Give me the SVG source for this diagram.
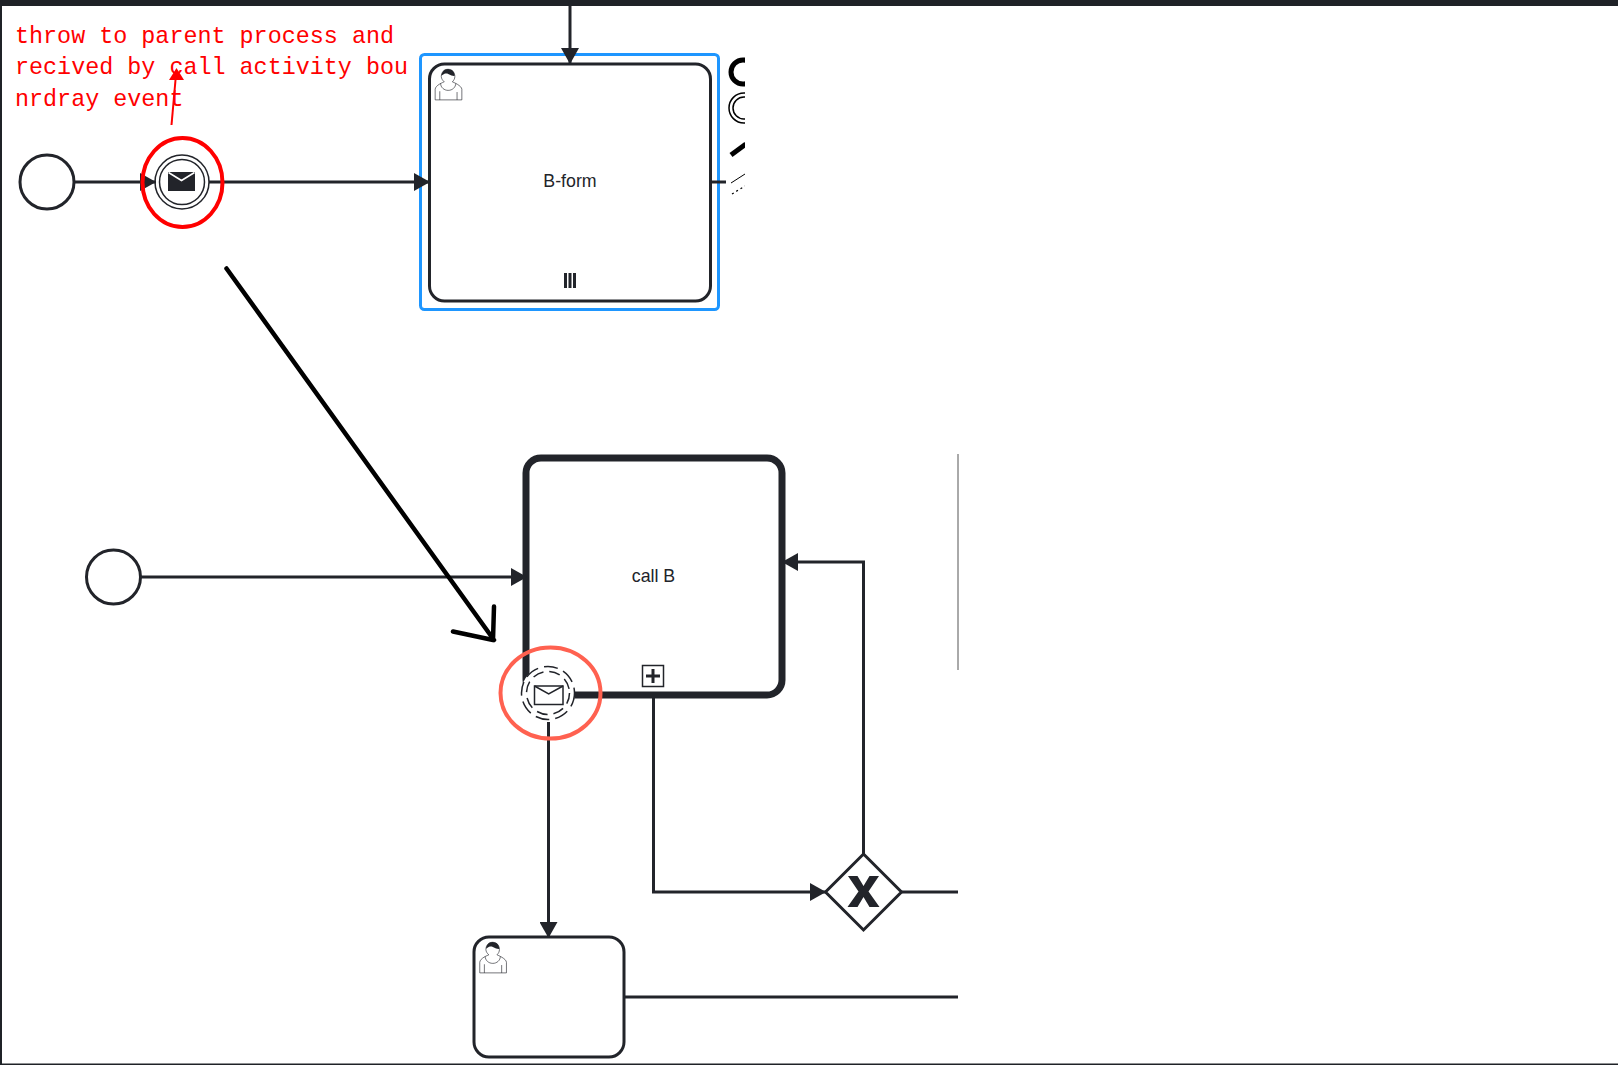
<svg xmlns="http://www.w3.org/2000/svg" width="1618" height="1065" viewBox="0 0 1618 1065">
<style>
.f{fill:#fff;stroke:#22242a;stroke-width:3}
.c{fill:none;stroke:#22242a;stroke-width:3}
.t{font-family:"Liberation Sans",Arial,sans-serif;font-size:17.800px;fill:#22242a;text-anchor:middle}
.n{font-family:"Liberation Mono","Courier New",monospace;font-size:23.400px;fill:#f00}
.ua{fill:none;stroke:#22242a;stroke-width:.5;opacity:.8}
.ub{fill:#22242a;stroke:none}
</style>
<defs>
<marker id="a" markerUnits="userSpaceOnUse" markerWidth="18" markerHeight="18" refX="16" refY="9" orient="auto"><path d="M0,0L16,9L0,18Z" fill="#22242a"/></marker>
<clipPath id="pad"><rect x="720" y="40" width="25" height="170"/></clipPath>
<g id="user">
<path class="ua" d="m15,12c.909-.845 1.594-2.049 1.594-3.385 0-2.554-1.805-4.622-4.357-4.622-2.552,0-4.288,2.068-4.288,4.622 0,1.348.974,2.562 1.896,3.405-.529.187-5.669,2.097-5.794,4.756v6.718h17v-6.718c0-2.298-5.528-4.595-6.051-4.776zm-8,6l0,5.5m11,0l0-5"/>
<path class="ua" d="m17.162,13.009c0,2.447-2.158,4.431-4.821,4.431-2.665,0-4.822-1.981-4.822-4.431"/>
<path class="ub" d="m8.100,8.200c0,0 2.251-2.358 4.274-1.177 2.024,1.181 4.221,1.537 4.124.965-.098-.57-.117-3.791-4.191-4.136-3.575.001-4.208,3.367-4.207,4.348z"/>
</g>
</defs>
<rect width="1618" height="1065" fill="#fff"/>
<g id="frame"><rect width="1618" height="6" fill="#1f2227"/><rect width="2" height="1065" fill="#1f2227"/><rect y="1063.500" width="1618" height="1.500" fill="#1f2227"/></g>
<g id="start1"><circle class="f" cx="47" cy="182" r="27"/></g>
<g id="throw-event">
<circle cx="182" cy="182" r="27" fill="#fff" stroke="#22242a" stroke-width="1.500"/>
<circle cx="182" cy="182" r="22.500" fill="#fff" stroke="#22242a" stroke-width="1.500"/>
<rect x="168" y="172" width="27" height="19" fill="#22242a"/>
<path d="M168.500,172.500L181.500,180.500L194.500,172.500" fill="none" stroke="#fff" stroke-width="1.500"/>
</g>
<g id="b-form-selection"><rect x="420.500" y="54.500" width="298" height="255" rx="4" fill="none" stroke="#1e96ff" stroke-width="3"/></g>
<g id="b-form">
<rect class="f" x="429.500" y="64" width="281" height="237" rx="15"/>
<use href="#user" transform="translate(428.800 63) scale(1.570)"/>
<text class="t" x="570" y="187">B-form</text>
<path fill="#22242a" d="M564,273h3v15h-3zM568.500,273h3v15h-3zM573,273h3v15h-3z"/>
</g>
<g id="context-pad" clip-path="url(#pad)">
<circle cx="743" cy="72" r="12" fill="none" stroke="#000" stroke-width="5"/>
<circle cx="744" cy="108" r="15" fill="none" stroke="#000" stroke-width="1.500"/>
<circle cx="744" cy="108" r="11" fill="none" stroke="#000" stroke-width="1.500"/>
<path d="M731,155L746,144" stroke="#000" stroke-width="5" fill="none"/>
<path d="M731,183L745,174" stroke="#000" stroke-width="1" fill="none"/>
<path d="M732,194L745,186" stroke="#000" stroke-width="1.200" stroke-dasharray="2 3" fill="none"/>
</g>
<g id="start2"><circle class="f" cx="113.500" cy="577" r="27"/></g>
<g id="call-b">
<rect x="526" y="458" width="256" height="237" rx="15" fill="#fff" stroke="#22242a" stroke-width="7"/>
<text class="t" x="653.500" y="582">call B</text>
<rect x="642.500" y="665.500" width="21" height="21" fill="#fff" stroke="#22242a" stroke-width="1.500"/>
<path d="M653,669V683M646,676H660" stroke="#22242a" stroke-width="3" fill="none"/>
</g>
<g id="boundary-event">
<circle cx="548" cy="693" r="27" fill="#fff"/>
<circle cx="548" cy="693" r="26.500" fill="none" stroke="#22242a" stroke-width="1.500" stroke-dasharray="14 6"/>
<circle cx="548" cy="693" r="21.500" fill="none" stroke="#22242a" stroke-width="1.500" stroke-dasharray="11 6"/>
<rect x="534.500" y="686" width="28.500" height="18.500" fill="#fff" stroke="#22242a" stroke-width="1.500"/>
<path d="M534.500,686L548.700,694L563,686" fill="none" stroke="#22242a" stroke-width="1.500"/>
</g>
<g id="gateway">
<path class="f" d="M863.500,854L901.500,892L863.500,930L825.500,892Z"/>
<path fill="#22242a" d="M848,876H857.500L863.500,886L869.500,876H879L868.500,891.500L879.500,907H869.500L863.500,897L857.500,907H847.500L858.500,891.500Z"/>
</g>
<g id="user-task">
<rect class="f" x="474" y="937" width="150" height="120" rx="15"/>
<use href="#user" transform="translate(473.400 936) scale(1.570)"/>
</g>
<g id="divider"><path d="M958,454V670" stroke="#555" stroke-width="1" fill="none"/></g>
<g id="connectors">
<path class="c" marker-end="url(#a)" d="M74,182H156"/>
<path class="c" marker-end="url(#a)" d="M209,182H430"/>
<path class="c" marker-end="url(#a)" d="M570,6V64"/>
<path class="c" d="M711,182H726"/>
<path class="c" marker-end="url(#a)" d="M141,577H527"/>
<path class="c" marker-end="url(#a)" d="M653.500,696V892H826"/>
<path class="c" marker-end="url(#a)" d="M863.500,854V562H782"/>
<path class="c" marker-end="url(#a)" d="M548.500,722V938"/>
<path class="c" d="M901.500,892H958"/>
<path class="c" d="M624,997H958"/>
</g>
<g id="annotations">
<text class="n"><tspan x="15" y="43">throw to parent process and</tspan><tspan x="15" y="74">recived by call activity bou</tspan><tspan x="15" y="106">nrdray event</tspan></text>
<path d="M171.500,125L175.500,80" stroke="#f00" stroke-width="2" fill="none"/>
<path d="M176.500,68L184,80H169Z" fill="#f00"/>
<ellipse cx="182.500" cy="182.500" rx="40" ry="44.500" fill="none" stroke="#f00" stroke-width="4"/>
<ellipse cx="550.500" cy="693" rx="50" ry="45.500" fill="none" stroke="#ff6150" stroke-width="4"/>
<path d="M226.500,268.500L494,640M494,606.500L493,640L453,631.500" fill="none" stroke="#000" stroke-width="4.500" stroke-linecap="round" stroke-linejoin="round"/>
</g>
</svg>
